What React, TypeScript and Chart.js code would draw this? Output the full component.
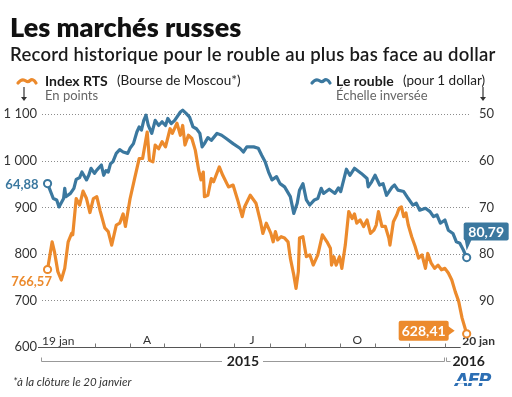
import React, { useEffect, useRef } from 'react';
import { Chart, registerables } from 'chart.js';

Chart.register(...registerables);

const FONT = 'Lato, "Noto Sans", sans-serif';
const ORANGE = '#ec8a2c';
const BLUE = '#3b789f';

// Days counted from 19 Jan 2015 (day 0) to 20 Jan 2016 (day 366)
const rtsDays = [0, 4, 6, 9, 12, 15, 18, 21, 22, 25, 28, 31, 34, 37, 40, 43, 46, 50, 53, 56, 60, 63, 66, 68, 72, 76, 80, 83, 87, 89, 92, 94, 97, 100, 103, 107, 109, 113, 116, 118, 120, 123, 126, 129, 132, 134, 136, 137, 140, 143, 145, 150, 153, 158, 162, 166, 170, 172, 177, 182, 186, 188, 191, 195, 197, 199, 201, 204, 207, 210, 212, 215, 217, 219, 220, 223, 226, 229, 232, 236, 240, 244, 247, 248, 250, 252, 255, 257, 260, 263, 266, 268, 270, 273, 276, 279, 282, 285, 287, 289, 292, 295, 298, 299, 302, 305, 307, 309, 311, 313, 315, 318, 321, 324, 327, 330, 332, 335, 338, 341, 344, 347, 350, 353, 356, 359, 362, 366];
const rtsValues = [766.57, 826, 805, 762, 744, 769, 826, 844, 841, 919, 905, 935, 919, 889, 919, 923, 892, 856, 848, 819, 862, 866, 886, 859, 918, 962, 1005, 1005, 1062, 1001, 998, 1034, 1026, 1041, 1030, 1069, 1059, 1081, 1055, 1076, 1034, 1055, 1048, 1023, 980, 959, 976, 923, 926, 962, 955, 987, 969, 944, 948, 916, 880, 901, 926, 909, 869, 844, 866, 844, 826, 848, 830, 837, 834, 826, 791, 755, 726, 762, 834, 837, 794, 798, 776, 798, 841, 826, 812, 776, 794, 776, 794, 769, 819, 891, 876, 886, 866, 873, 859, 873, 844, 851, 862, 891, 859, 859, 834, 819, 869, 884, 898, 901, 880, 888, 862, 837, 816, 791, 798, 769, 801, 780, 769, 776, 766, 769, 759, 744, 719, 698, 662, 628.41];

const rubleDays = [0, 5, 8, 10, 14, 15, 16, 20, 23, 25, 28, 30, 34, 36, 38, 41, 43, 47, 49, 51, 53, 55, 57, 60, 63, 66, 70, 72, 75, 78, 80, 82, 84, 86, 88, 91, 94, 97, 100, 103, 105, 108, 111, 116, 118, 121, 124, 127, 130, 133, 135, 137, 140, 143, 148, 152, 156, 162, 168, 171, 174, 180, 184, 187, 190, 193, 196, 200, 203, 207, 212, 215, 218, 220, 223, 226, 229, 233, 236, 239, 241, 246, 251, 254, 256, 261, 264, 268, 274, 279, 280, 283, 286, 290, 293, 296, 301, 303, 306, 311, 315, 319, 322, 325, 330, 334, 337, 340, 343, 347, 350, 354, 357, 360, 363, 366];
const rubleValues = [64.88, 68.1, 68.4, 69.9, 68.1, 65.9, 67.7, 67.0, 65.9, 64.0, 63.6, 62.4, 64.1, 63.1, 61.6, 62.7, 62.0, 60.9, 63.1, 62.1, 62.4, 60.6, 60.2, 58.4, 57.6, 58.1, 58.4, 57.3, 56.3, 53.8, 52.7, 53.4, 51.3, 50.2, 52.4, 54.1, 51.3, 52.4, 51.6, 52.4, 50.9, 52.0, 51.3, 49.5, 49.1, 49.8, 50.6, 52.7, 53.1, 54.1, 57.0, 56.3, 55.0, 55.6, 54.1, 54.5, 55.2, 56.3, 57.3, 58.1, 57.0, 57.0, 57.3, 58.8, 60.2, 62.4, 64.1, 63.4, 64.9, 65.6, 67.7, 71.3, 69.1, 66.3, 64.9, 68.4, 69.5, 68.4, 68.1, 65.9, 67.0, 66.1, 67.0, 65.8, 66.6, 61.8, 63.1, 61.6, 62.7, 63.8, 65.6, 64.5, 63.1, 65.2, 64.9, 67.4, 65.6, 65.2, 66.3, 66.6, 68.1, 69.5, 69.1, 70.6, 70.2, 70.9, 72.0, 71.6, 73.4, 72.7, 74.9, 75.6, 77.4, 77.7, 79.1, 80.79];

const leftTicks = [600, 700, 800, 900, 1000, 1100];
const rightTicks = [50, 60, 70, 80, 90];
const monthTickDays = [41, 72, 102, 133, 163, 194, 225, 255, 286, 316, 347];
const quarterLabels = ['A', 'J', 'O'];
const quarterMidDays = [87, 178.5, 270.5];
const startLabel = '19 jan';
const endLabel = '20 jan';
const yearLabels = ['2015', '2016'];
const yearBreakDay = 347;

const fmtThousands = (v: number) =>
  v >= 1000 ? `${Math.floor(v / 1000)} ${String(v % 1000).padStart(3, '0')}` : String(v);
const fmtDec = (v: number) => v.toFixed(2).replace('.', ',');

function wave(ctx: CanvasRenderingContext2D, x: number, y: number, color: string) {
  ctx.save();
  ctx.strokeStyle = color;
  ctx.lineWidth = 3.2;
  ctx.lineJoin = 'round';
  ctx.lineCap = 'round';
  ctx.beginPath();
  ctx.moveTo(x, y + 3);
  ctx.quadraticCurveTo(x + 4, y - 2, x + 8, y + 1);
  ctx.quadraticCurveTo(x + 10, y + 2.5, x + 12, y + 0.5);
  ctx.quadraticCurveTo(x + 15, y - 2, x + 18, y + 3);
  ctx.stroke();
  ctx.restore();
}

function arrow(ctx: CanvasRenderingContext2D, x: number, y1: number, y2: number) {
  ctx.save();
  ctx.strokeStyle = '#333';
  ctx.fillStyle = '#333';
  ctx.lineWidth = 1.2;
  ctx.beginPath();
  ctx.moveTo(x, y1);
  ctx.lineTo(x, y2 - 3);
  ctx.stroke();
  ctx.beginPath();
  ctx.moveTo(x - 3, y2 - 4);
  ctx.lineTo(x + 3, y2 - 4);
  ctx.lineTo(x, y2);
  ctx.closePath();
  ctx.fill();
  ctx.restore();
}

function rrect(ctx: CanvasRenderingContext2D, x: number, y: number, w: number, h: number, r: number) {
  ctx.beginPath();
  ctx.moveTo(x + r, y);
  ctx.lineTo(x + w - r, y);
  ctx.quadraticCurveTo(x + w, y, x + w, y + r);
  ctx.lineTo(x + w, y + h - r);
  ctx.quadraticCurveTo(x + w, y + h, x + w - r, y + h);
  ctx.lineTo(x + r, y + h);
  ctx.quadraticCurveTo(x, y + h, x, y + h - r);
  ctx.lineTo(x, y + r);
  ctx.quadraticCurveTo(x, y, x + r, y);
  ctx.closePath();
}

function circle(ctx: CanvasRenderingContext2D, x: number, y: number, color: string) {
  ctx.beginPath();
  ctx.arc(x, y, 3.6, 0, Math.PI * 2);
  ctx.fillStyle = '#fff';
  ctx.fill();
  ctx.lineWidth = 2;
  ctx.strokeStyle = color;
  ctx.stroke();
}

const overlay = {
  id: 'overlay',
  beforeDatasetsDraw(chart: any) {
    const { ctx, chartArea, scales } = chart;
    const yL = scales.yL;
    const x = scales.x;
    ctx.save();
    ctx.strokeStyle = '#8c8c8c';
    ctx.lineWidth = 1;
    ctx.setLineDash([1, 2]);
    for (const v of leftTicks) {
      if (v === 600) continue;
      const y = Math.round(yL.getPixelForValue(v)) + 0.5;
      ctx.beginPath();
      ctx.moveTo(chartArea.left + 2, y);
      ctx.lineTo(chartArea.right, y);
      ctx.stroke();
    }
    ctx.setLineDash([]);
    const y0 = Math.round(yL.getPixelForValue(600)) + 0.5;
    ctx.strokeStyle = '#555';
    ctx.beginPath();
    ctx.moveTo(chartArea.left - 2, y0);
    ctx.lineTo(x.getPixelForValue(366) - 6, y0);
    ctx.stroke();
    ctx.strokeStyle = '#777';
    for (const d of monthTickDays) {
      const px = Math.round(x.getPixelForValue(d)) + 0.5;
      ctx.beginPath();
      ctx.moveTo(px, y0);
      ctx.lineTo(px, y0 - 4);
      ctx.stroke();
    }
    ctx.restore();
  },
  afterDatasetsDraw(chart: any) {
    const { ctx, chartArea, scales } = chart;
    const yL = scales.yL;
    const yR = scales.yR;
    const x = scales.x;
    const y0 = Math.round(yL.getPixelForValue(600)) + 0.5;
    ctx.save();

    // x-axis labels
    ctx.fillStyle = '#333';
    ctx.textBaseline = 'alphabetic';
    ctx.font = `12px ${FONT}`;
    ctx.textAlign = 'left';
    ctx.fillText(startLabel, chartArea.left + 2, y0 - 3);
    ctx.textAlign = 'center';
    quarterLabels.forEach((l, i) => ctx.fillText(l, x.getPixelForValue(quarterMidDays[i]), y0 - 4));
    ctx.font = `bold 12px ${FONT}`;
    ctx.textAlign = 'left';
    ctx.fillText(endLabel, x.getPixelForValue(366) - 4.5, y0 - 3);

    // year bracket
    const yb = 361.5;
    const xs = chartArea.left + 1.5;
    const xe = Math.round(x.getPixelForValue(yearBreakDay)) - 0.5;
    const mid = (xs + xe) / 2;
    ctx.strokeStyle = '#999';
    ctx.lineWidth = 1;
    ctx.beginPath();
    ctx.moveTo(xs, yb - 4);
    ctx.lineTo(xs, yb);
    ctx.lineTo(mid - 21, yb);
    ctx.moveTo(mid + 20, yb);
    ctx.lineTo(xe, yb);
    ctx.lineTo(xe, yb - 4);
    ctx.moveTo(xe + 2, yb - 4);
    ctx.lineTo(xe + 2, yb);
    ctx.lineTo(xe + 6, yb);
    ctx.stroke();
    ctx.fillStyle = '#222';
    ctx.font = `bold 14px ${FONT}`;
    ctx.textAlign = 'center';
    ctx.fillText(yearLabels[0], mid, 366);
    ctx.textAlign = 'left';
    ctx.fillText(yearLabels[1], xe + 8, 366);

    // legend icons and arrows
    wave(ctx, 18, 80, ORANGE);
    wave(ctx, 312, 80, BLUE);
    arrow(ctx, 24, 87, 101);
    arrow(ctx, 483, 87, 101);

    // start points
    const bx0 = x.getPixelForValue(rubleDays[0]);
    const by0 = yR.getPixelForValue(rubleValues[0]);
    const ox0 = x.getPixelForValue(rtsDays[0]);
    const oy0 = yL.getPixelForValue(rtsValues[0]);
    circle(ctx, bx0, by0, BLUE);
    circle(ctx, ox0, oy0, ORANGE);
    ctx.font = `bold 13px ${FONT}`;
    ctx.fillStyle = BLUE;
    ctx.textAlign = 'right';
    ctx.fillText(fmtDec(rubleValues[0]), bx0 - 9, by0 + 5);
    ctx.fillStyle = ORANGE;
    ctx.textAlign = 'center';
    ctx.fillText(fmtDec(rtsValues[0]), ox0 - 16, oy0 + 17);

    // end points
    const nB = rubleDays.length - 1;
    const bx1 = x.getPixelForValue(rubleDays[nB]);
    const by1 = yR.getPixelForValue(rubleValues[nB]);
    const nO = rtsDays.length - 1;
    const ox1 = x.getPixelForValue(rtsDays[nO]);
    const oy1 = yL.getPixelForValue(rtsValues[nO]);

    // blue box
    const bl = bx1 - 3;
    const bt = by1 - 35;
    ctx.fillStyle = BLUE;
    rrect(ctx, bl, bt, 45, 18, 2);
    ctx.fill();
    ctx.beginPath();
    ctx.moveTo(bl + 1, bt + 17);
    ctx.lineTo(bl + 8, bt + 17);
    ctx.lineTo(bx1, by1 - 7);
    ctx.closePath();
    ctx.fill();
    ctx.fillStyle = '#fff';
    ctx.font = `bold 14px ${FONT}`;
    ctx.textAlign = 'center';
    ctx.textBaseline = 'middle';
    ctx.fillText(fmtDec(rubleValues[nB]), bl + 22.5, bt + 9.5);

    // orange box
    const or = ox1 - 18;
    const ocy = oy1 - 3;
    ctx.fillStyle = ORANGE;
    rrect(ctx, or - 50, ocy - 10, 50, 20, 2);
    ctx.fill();
    ctx.beginPath();
    ctx.moveTo(or - 1, ocy - 5);
    ctx.lineTo(or + 6, ocy);
    ctx.lineTo(or - 1, ocy + 5);
    ctx.closePath();
    ctx.fill();
    ctx.fillStyle = '#fff';
    ctx.fillText(fmtDec(rtsValues[nO]), or - 25, ocy + 1);

    circle(ctx, bx1, by1, BLUE);
    circle(ctx, ox1, oy1, ORANGE);
    ctx.restore();
  },
};

function T(props: { x: number; b: number; size: number; weight?: number; color?: string; italic?: boolean; children: any; spacing?: number }) {
  const { x, b, size, weight = 400, color = '#222', italic = false, children, spacing = 0 } = props;
  return (
    <div
      style={{
        position: 'absolute',
        left: x,
        top: b - 0.887 * size,
        fontFamily: FONT,
        fontSize: size,
        lineHeight: `${size}px`,
        fontWeight: weight,
        fontStyle: italic ? 'italic' : 'normal',
        color,
        whiteSpace: 'nowrap',
        letterSpacing: spacing,
      }}
    >
      {children}
    </div>
  );
}

export default function App() {
  const ref = useRef<HTMLCanvasElement | null>(null);
  useEffect(() => {
    if (!ref.current) return;
    const chart = new Chart(ref.current, {
      type: 'line',
      data: {
        datasets: [
          {
            label: 'Index RTS',
            data: rtsDays.map((d, i) => ({ x: d, y: rtsValues[i] })),
            yAxisID: 'yL',
            borderColor: ORANGE,
            borderWidth: 3.2,
            pointRadius: 0,
            tension: 0,
            borderJoinStyle: 'round',
          },
          {
            label: 'Le rouble',
            data: rubleDays.map((d, i) => ({ x: d, y: rubleValues[i] })),
            yAxisID: 'yR',
            borderColor: BLUE,
            borderWidth: 3.2,
            pointRadius: 0,
            tension: 0,
            borderJoinStyle: 'round',
          },
        ],
      },
      options: {
        animation: false,
        responsive: false,
        devicePixelRatio: 1,
        events: [],
        layout: { padding: { top: 105, bottom: 50, left: 0, right: 0 } },
        plugins: { legend: { display: false }, tooltip: { enabled: false } },
        scales: {
          x: { type: 'linear', min: -6.6, max: 368.9, display: false },
          yL: {
            type: 'linear',
            position: 'left',
            min: 600,
            max: 1120,
            grid: { display: false, drawTicks: false },
            border: { display: false },
            afterBuildTicks: (s: any) => {
              s.ticks = leftTicks.map((v) => ({ value: v }));
            },
            afterFit: (s: any) => {
              s.width = 40;
            },
            ticks: {
              padding: 3,
              color: '#333',
              font: { family: FONT, size: 13 },
              callback: (v: any) => fmtThousands(Number(v)),
            },
          },
          yR: {
            type: 'linear',
            position: 'right',
            reverse: true,
            min: 48,
            max: 100,
            grid: { display: false, drawTicks: false },
            border: { display: false },
            afterBuildTicks: (s: any) => {
              s.ticks = rightTicks.map((v) => ({ value: v }));
            },
            afterFit: (s: any) => {
              s.width = 42;
            },
            ticks: {
              padding: 9,
              color: '#333',
              font: { family: FONT, size: 13 },
            },
          },
        },
      },
      plugins: [overlay],
    } as any);
    return () => chart.destroy();
  }, []);

  return (
    <div style={{ position: 'absolute', left: 0, top: 0, width: 512, height: 397, background: '#fff', overflow: 'hidden' }}>
      <canvas ref={ref} width={512} height={397} style={{ position: 'absolute', left: 0, top: 0 }} />
      <T x={10} b={36.5} size={27} weight={800} color="#111">Les marchés russes</T>
      <T x={10} b={61.5} size={18.5} weight={600} color="#1a1a1a" spacing={0.25}>Record historique pour le rouble au plus bas face au dollar</T>
      <T x={45} b={86} size={14} weight={700} color="#1a1a1a">Index RTS</T>
      <T x={117} b={86} size={13.5} color="#222">(Bourse de Moscou*)</T>
      <T x={45} b={101} size={13} color="#666">En points</T>
      <T x={336} b={86} size={14} weight={700} color="#1a1a1a">Le rouble</T>
      <T x={403} b={86} size={13.5} color="#222">(pour 1 dollar)</T>
      <T x={336} b={101} size={13} color="#666">Échelle inversée</T>
      <T x={13} b={386} size={11.5} italic color="#333">*à la clôture le 20 janvier</T>
      <div style={{ position: 'absolute', left: 455, top: 370, width: 42, height: 20 }}>
        <div style={{ position: 'absolute', left: 0, top: 0, fontFamily: '"DejaVu Sans", sans-serif', fontWeight: 700, fontStyle: 'italic', fontSize: 18, lineHeight: '20px', letterSpacing: -1.5, color: '#2d6fb4' }}>AFP</div>
        <div style={{ position: 'absolute', left: 0, top: 11, width: 42, height: 1.5, background: '#fff' }} />
      </div>
    </div>
  );
}
